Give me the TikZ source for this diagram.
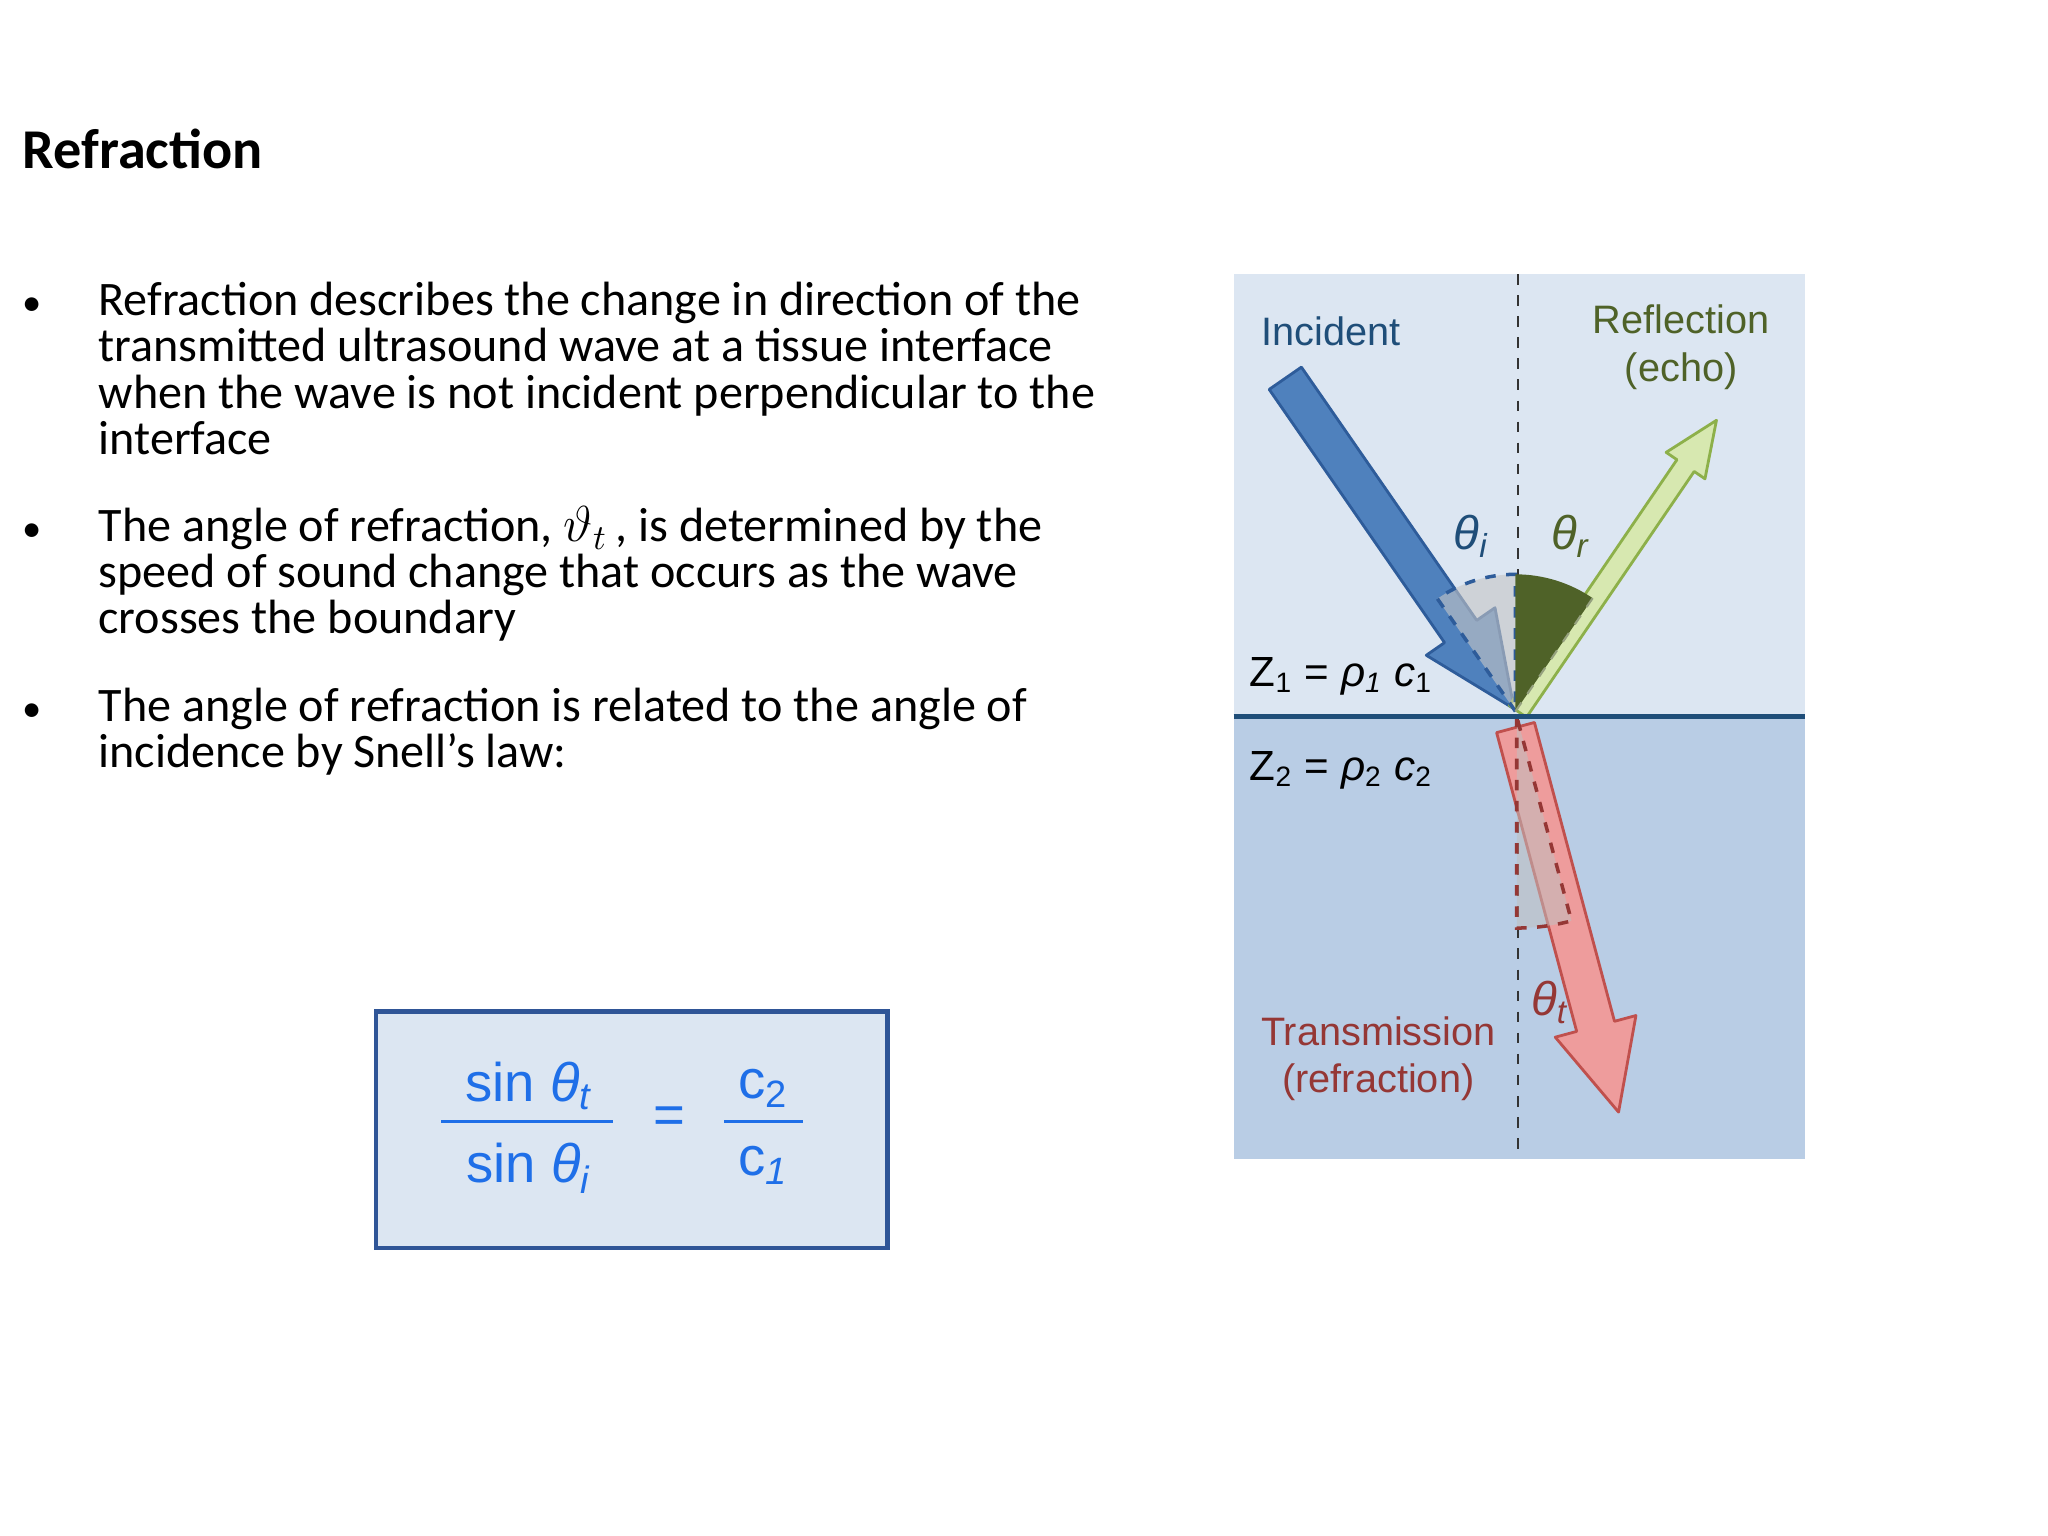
\documentclass[tikz,border=0pt]{standalone}
\usepackage{fontspec}
\setmainfont{Carlito}
\newfontfamily\arialf{Liberation Sans}
\definecolor{upc}{HTML}{DCE6F2}
\definecolor{loc}{HTML}{B9CDE5}
\definecolor{ifc}{HTML}{1F4E79}
\definecolor{incf}{HTML}{4F81BD}
\definecolor{incd}{HTML}{2E5C9A}
\definecolor{refl}{HTML}{D7E8B0}
\definecolor{refd}{HTML}{8DB04A}
\definecolor{dgreen}{HTML}{4F6228}
\definecolor{trf}{HTML}{EE9C9C}
\definecolor{trd}{HTML}{C0504D}
\definecolor{dred}{HTML}{953735}
\definecolor{eqblue}{HTML}{1F6FE8}
\definecolor{boxb}{HTML}{2F5597}
\newcommand{\sbi}[1]{\textsubscript{\itshape #1}}
\newcommand{\sbu}[1]{\textsubscript{#1}}
\begin{document}
\begin{tikzpicture}[x=0.013057cm,y=-0.013057cm,
  body/.style={anchor=base west,inner sep=0,font=\fontsize{13.7}{14}\selectfont},
  dlab/.style={inner sep=0,font=\arialf\fontsize{11.3}{13.5}\selectfont},
  eq/.style={inner sep=0,text=eqblue,font=\arialf\fontsize{15.5}{17}\selectfont}]
\useasboundingbox (0,0) rectangle (1569,1176);
\node[anchor=base west,inner sep=0,font=\bfseries\fontsize{16}{19}\selectfont] (title) at (17,129) {Refraction};
% bullets
\foreach \y in {242,415,553} \node[body,font=\fontsize{11}{12}\selectfont] at (17,\y) {•};
\node[body] (l1) at (75,242) {Refraction describes the change in direction of the};
\node[body] (l2) at (75,277) {transmitted ultrasound wave at a tissue interface};
\node[body] (l3) at (75,313) {when the wave is not incident perpendicular to the};
\node[body] (l4) at (75,348) {interface};
\node[body] (m1) at (75,415) {The angle of refraction, $\vartheta_t$\,, is determined by the};
\node[body] (m2) at (75,450) {speed of sound change that occurs as the wave};
\node[body] (m3) at (75,485) {crosses the boundary};
\node[body] (n1) at (75,553) {The angle of refraction is related to the angle of};
\node[body] (n2) at (75,588) {incidence by Snell's law:};
% formula box
\draw[boxb,line width=1.2pt,fill=upc] (288,775) rectangle (680,956);
\node[eq] (num) at (405,832) {sin \textit{θ}\sbi{t}};
\node[eq] (den) at (405,895) {sin \textit{θ}\sbi{i}};
\draw[eqblue,line width=0.8pt] (338,859) -- (470,859);
\node[eq] (eqs) at (513,858) {=};
\node[eq] (c2) at (585,834) {c\sbu{2}};
\node[eq] (c1) at (585,893) {c\sbi{1}};
\draw[eqblue,line width=0.8pt] (555,859) -- (615,859);
% panel
\fill[upc] (945,210) rectangle (1383,549);
\fill[loc] (945,549) rectangle (1383,888);
\draw[black!80,dashed,line width=0.5pt] (1163,210) -- (1163,888);
% incident arrow
\begin{scope}[shift={(1160,543)},rotate=124.7]
\draw[incd,fill=incf,line width=0.8pt,line join=round] (0,0) -- (72,32) -- (72,15) -- (308,15) -- (308,-15) -- (72,-15) -- (72,-32) -- cycle;
\end{scope}
% reflection arrow
\begin{scope}[shift={(1315,322)},rotate=-124.3]
\draw[refd,fill=refl,line width=0.8pt,line join=round] (0,0) -- (42,18) -- (42,8) -- (270,8) -- (270,-8) -- (42,-8) -- (42,-18) -- cycle;
\end{scope}
% transmission arrow
\begin{scope}[shift={(1240,852)},rotate=105]
\draw[trd,fill=trf,line width=0.8pt,line join=round] (0,0) -- (68,32) -- (68,15) -- (305,15) -- (305,-15) -- (68,-15) -- (68,-32) -- cycle;
\end{scope}
% sectors
\draw[incd,dashed,line width=1pt,fill=gray!45,fill opacity=0.6] (1161,545) -- ++(-124.7:105) arc[start angle=-124.7,end angle=-90,radius=105] -- cycle;
\fill[dgreen] (1161,545) -- ++(-90:105) arc[start angle=-90,end angle=-55.7,radius=105] -- cycle;
\draw[dgreen!60!white,dashed,line width=0.6pt] (1161,545) -- ++(-55.7:105);
\draw[dred,dashed,line width=1pt,fill=gray!50,fill opacity=0.55] (1162,549) -- ++(90:162) arc[start angle=90,end angle=75,radius=162] -- cycle;
% interface
\draw[ifc,line width=1.6pt] (945,549) -- (1383,549);
% labels
\node[dlab,text=ifc] (inc) at (1020,254) {Incident};
\node[dlab,text=dgreen,align=center] (ref) at (1288,266) {Reflection\\(echo)};
\node[dlab,text=dred,align=center] (tra) at (1056,811) {Transmission\\(refraction)};
\node[dlab,text=ifc,font=\arialf\fontsize{13.5}{15}\selectfont] (ti) at (1127,411) {\textit{θ}\sbi{i}};
\node[dlab,text=dgreen,font=\arialf\fontsize{13.5}{15}\selectfont] (tr) at (1203,411) {\textit{θ}\sbi{r}};
\node[dlab,text=dred,font=\arialf\fontsize{13.5}{15}\selectfont] (tt) at (1187,768) {\textit{θ}\sbi{t}};
\node[dlab,anchor=west,font=\arialf\fontsize{12}{14}\selectfont] (z1) at (957,518) {Z\sbu{1} = \textit{ρ}\sbi{1} \textit{c}\sbu{1}};
\node[dlab,anchor=west,font=\arialf\fontsize{12}{14}\selectfont] (z2) at (957,590) {Z\sbu{2} = \textit{ρ}\sbu{2} \textit{c}\sbu{2}};
\end{tikzpicture}
\end{document}
